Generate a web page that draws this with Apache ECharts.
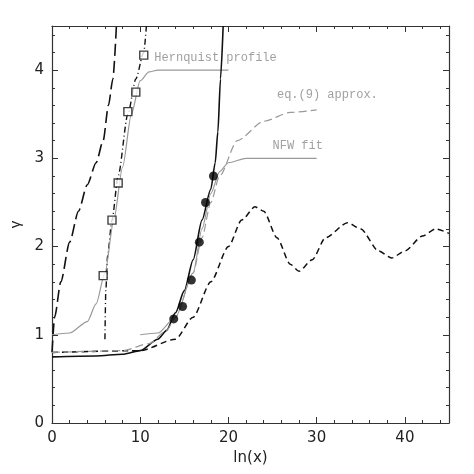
<!DOCTYPE html>
<html><head><meta charset="utf-8">
<script src="https://cdn.jsdelivr.net/npm/echarts@6/dist/echarts.min.js"></script>
<style>html,body{margin:0;padding:0;background:#fff}#c{width:474px;height:474px}</style>
</head><body><div id="c"></div>
<script>
var longDash = [[0,0.8],[0.3,1.2],[1,1.6],[2,2.05],[3,2.4],[4,2.7],[5,2.95],[5.8,3.2],[6.4,3.6],[6.9,3.9],[7.3,4.5]];
var dotDash = [[6,0.95],[6.1,1.5],[6.3,1.9],[6.8,2.3],[7.5,2.8],[8.6,3.5],[9.5,3.9],[10.4,4.2],[10.7,4.5]];
var hernquist = [[0,1.0],[2,1.02],[4,1.15],[5,1.35],[6,1.7],[7,2.3],[8,2.9],[9,3.5],[10,3.88],[11,3.98],[12,4.0],[20,4.0]];
var squares = [[5.8,1.67],[6.8,2.3],[7.5,2.72],[8.6,3.53],[9.5,3.75],[10.4,4.17]];
var solid = [[0,0.75],[5,0.76],[8,0.78],[10,0.82],[12,0.95],[13,1.05],[14,1.25],[15,1.5],[16,1.85],[17,2.3],[18,2.65],[18.5,2.95],[18.8,3.3],[19.1,3.9],[19.4,4.5]];
var dots = [[13.8,1.18],[14.8,1.32],[15.8,1.62],[16.7,2.05],[17.4,2.5],[18.3,2.8]];
var dashed = [[0,0.8],[10,0.82],[14,0.95],[16,1.2],[18,1.6],[20,2.0],[21.5,2.3],[23,2.45],[24,2.4],[25.5,2.1],[27,1.8],[28,1.72],[29.5,1.85],[31,2.1],[33.5,2.27],[35,2.2],[37,1.95],[38.5,1.87],[40,1.95],[42,2.12],[43.5,2.2],[45,2.15]];
var eq9 = [[0,0.8],[8,0.82],[11,0.9],[13,1.05],[14,1.2],[16,1.7],[17,2.1],[18,2.5],[19,2.8],[21,3.2],[24,3.42],[27,3.52],[30,3.55]];
var nfw = [[10,1.0],[12,1.02],[14,1.2],[16,1.7],[17,2.2],[18,2.6],[19,2.85],[20,2.95],[22,3.0],[30,3.0]];
var labels = [[11.6,4.14,'Hernquist profile'],[25.5,3.72,'eq.(9) approx.'],[25,3.14,'NFW fit']];

var chart = echarts.init(document.getElementById('c'));
var tick = {inside:true,length:6,lineStyle:{color:'#333'}};
var minor = {show:true,splitNumber:5,length:3,lineStyle:{color:'#333'}};
function xAx(pos,show){return {type:'value',min:0,max:45,interval:10,position:pos,
  axisLine:{show:true,onZero:false,lineStyle:{color:'#333',width:1.2}},axisTick:tick,minorTick:minor,splitLine:{show:false},
  axisLabel:{show:show,color:'#222',fontSize:15,fontFamily:'DejaVu Sans',showMaxLabel:false},
  name:show?'ln(x)':'',nameLocation:'middle',nameGap:28,nameTextStyle:{color:'#222',fontSize:15,fontFamily:'DejaVu Sans'}};}
function yAx(pos,show){return {type:'value',min:0,max:4.5,interval:1,position:pos,
  axisLine:{show:true,onZero:false,lineStyle:{color:'#333',width:1.2}},axisTick:tick,minorTick:minor,splitLine:{show:false},
  axisLabel:{show:show,color:'#222',fontSize:15,fontFamily:'DejaVu Sans',showMaxLabel:false},
  name:show?'γ':'',nameLocation:'middle',nameGap:28,nameTextStyle:{color:'#222',fontSize:15}};}
function line(d,color,w,type){return {type:'line',data:d,smooth:0.25,smoothMonotone:'x',symbol:'none',silent:true,
  lineStyle:{color:color,width:w,type:type},z:2};}
chart.setOption({
  animation:false,
  grid:{left:52,right:25,top:26,bottom:51},
  xAxis:[xAx('bottom',true),xAx('top',false)],
  yAxis:[yAx('left',true),yAx('right',false)],
  series:[
    line(longDash,'#111',1.6,[12,5]),
    line(dotDash,'#111',1.4,[6,3,1,3]),
    line(hernquist,'#999',1.2,'solid'),
    line(solid,'#111',1.6,'solid'),
    line(dashed,'#111',1.5,[6,4]),
    line(eq9,'#999',1.2,[8,4]),
    line(nfw,'#999',1.2,'solid'),
    {type:'scatter',data:squares,symbol:'rect',symbolSize:8,itemStyle:{color:'#fff',borderColor:'#111',borderWidth:1.4},z:5},
    {type:'scatter',data:dots,symbol:'circle',symbolSize:9,itemStyle:{color:'#000'},z:5},
    {type:'scatter',data:labels.map(function(l){return {value:[l[0],l[1]],name:l[2]};}),symbolSize:0,
      label:{show:true,position:'right',distance:0,formatter:'{b}',color:'#888',fontSize:12,fontFamily:'Liberation Mono'},z:6}
  ]
});
</script></body></html>
